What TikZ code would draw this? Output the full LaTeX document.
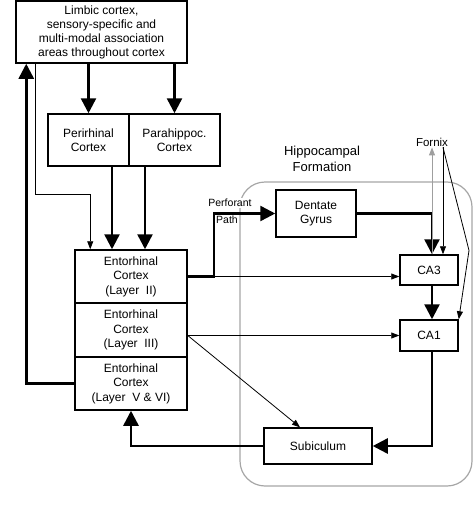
\documentclass[tikz,border=0pt]{standalone}
\usepackage{fontspec}
\setmainfont{Liberation Sans}
\usetikzlibrary{arrows.meta}

\begin{document}
\begin{tikzpicture}[
    x=1pt, y=-1pt,
    font=\fontsize{12}{14.5}\selectfont,
    box/.style    ={draw, line width=1.5pt, align=center, inner sep=0pt},
    bigarr/.style ={line width=2.5pt, -{Triangle[length=15pt,width=15pt]}},
    thinarr/.style={line width=0.8pt, -{Triangle[length=8pt,width=6pt]}},
    grayarr/.style={draw=gray!75, line width=1pt, -{Triangle[length=8pt,width=6pt]}},
    lbl/.style    ={align=center, inner sep=1pt},
  ]
  \useasboundingbox (0,0) rectangle (474,506);

  % --- hippocampal formation frame ---
  \draw[gray!70, line width=1.2pt, rounded corners=25pt] (240,182) rectangle (472,486);
  \node[lbl, font=\fontsize{13}{16}\selectfont] (hf) at (322,159) {Hippocampal\\Formation};

  % --- cortex ---
  \node[box, minimum width=171pt, minimum height=62pt, font=\fontsize{12}{14}\selectfont]
    (limbic) at (101.5,32) {Limbic cortex,\\sensory-specific and\\multi-modal association\\areas throughout cortex};
  \node[box, minimum width=81pt, minimum height=52pt] (peri) at (88.5,140) {Perirhinal\\Cortex};
  \node[box, minimum width=91pt, minimum height=52pt] (para) at (174.5,140) {Parahippoc.\\Cortex};
  \node[box, minimum width=112pt, minimum height=53pt] (ec2) at (131,276.5) {Entorhinal\\Cortex\\(Layer~~II)};
  \node[box, minimum width=112pt, minimum height=54pt] (ec3) at (131,330) {Entorhinal\\Cortex\\(Layer~~III)};
  \node[box, minimum width=112pt, minimum height=53pt] (ec5) at (131,383.5) {Entorhinal\\Cortex\\(Layer~~V \& VI)};

  % --- hippocampus ---
  \node[box, minimum width=80pt, minimum height=47pt] (dg) at (316,213.5) {Dentate\\Gyrus};
  \node[box, minimum width=58pt, minimum height=30pt] (ca3) at (429,270) {CA3};
  \node[box, minimum width=58pt, minimum height=31pt] (ca1) at (429,335.5) {CA1};
  \node[box, minimum width=108pt, minimum height=36pt] (sub) at (318,446) {Subiculum};
  \node[lbl, font=\fontsize{11.5}{13}\selectfont] (fornix) at (432,142) {Fornix};
  \coordinate (fx) at ([xshift=11pt]fornix.south);

  % --- cortical inputs ---
  \draw[bigarr] (peri.north |- limbic.south) -- (peri.north);
  \draw[bigarr] (para.north |- limbic.south) -- (para.north);
  \draw[bigarr] ([xshift=23.5pt]peri.south) -- ([xshift=23.5pt]peri.south |- ec2.north);
  \draw[bigarr] ([xshift=-29.5pt]para.south) -- ([xshift=-29.5pt]para.south |- ec2.north);
  \draw[thinarr] ([xshift=20pt]limbic.south west) -- ++(0,131) -| ([xshift=16pt]ec2.north west);
  \draw[bigarr] (ec5.west) -| ([xshift=11pt]limbic.south west);

  % --- perforant path ---
  \draw[bigarr] (ec2.east) -- ++(26,0) |- (dg.west);
  \node[lbl, fill=white, font=\fontsize{10.5}{12}\selectfont] (perf) at (230,203) {Perforant};
  \node[lbl, font=\fontsize{10.5}{12}\selectfont] (path) at (227,220) {Path};
  \draw[thinarr] (ec2.east) -- (ec2.east -| ca3.west);
  \draw[thinarr] (ec3.east |- ca1.west) -- (ca1.west);
  \draw[thinarr] (ec3.east |- ca1.west) -- ([xshift=-18pt]sub.north);

  % --- trisynaptic loop ---
  \draw[bigarr] (dg.east) -| ([xshift=3pt]ca3.north);
  \draw[bigarr] ([xshift=3pt]ca3.south) -- ([xshift=3pt]ca1.north);
  \draw[bigarr] ([xshift=3pt]ca1.south) |- (sub.east);
  \draw[bigarr] (sub.west) -| (ec5.south);

  % --- fornix ---
  \draw[grayarr] ([xshift=3pt]ca3.north) -- ([xshift=3pt]ca3.north |- fornix.south);
  \draw[thinarr] (fx) -- (fx |- ca3.north);
  \draw[thinarr] (fx) -- ++(26,103) -- (ca1.north east);
\end{tikzpicture}
\end{document}
